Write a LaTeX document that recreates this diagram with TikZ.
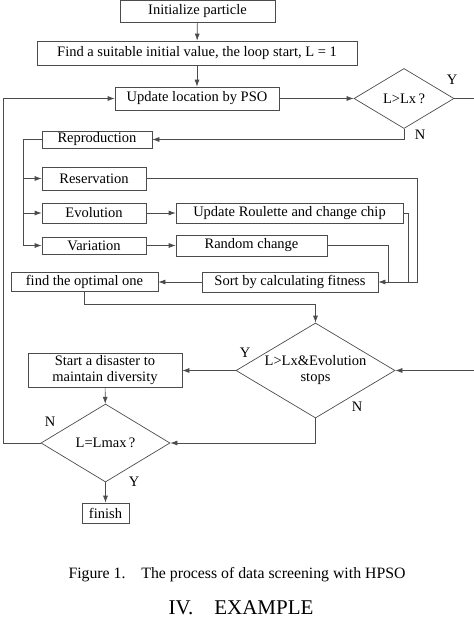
\documentclass[tikz,border=0pt]{standalone}
\usepackage{fontspec}
\setmainfont{Liberation Serif}
\usetikzlibrary{shapes.geometric,arrows.meta}

\begin{document}
\begin{tikzpicture}[x=1pt,y=-1pt,
    box/.style={draw=black!70,line width=0.7pt,rectangle,inner sep=0pt,font=\fontsize{14.5}{16}\selectfont},
    dec/.style={draw=black!70,line width=0.7pt,diamond,inner sep=0pt,align=center,font=\fontsize{14.5}{16}\selectfont},
    lbl/.style={font=\fontsize{14.5}{16}\selectfont},
    conn/.style={draw=black!70,line width=0.7pt},
    >={Latex[length=7pt,width=5pt]}]
    \useasboundingbox (0,0) rectangle (474,619);

    % main column
    \node[box,minimum width=155pt,minimum height=22pt] (init) at (197.5,11) {Initialize particle};
    \node[box,minimum width=320pt,minimum height=24pt] (find) at (197,53) {Find a suitable initial value, the loop start, L = 1};
    \node[box,minimum width=164pt,minimum height=23pt] (upd) at (197,98.5) {Update location by PSO};
    \node[dec,aspect=1.67,minimum width=100pt,minimum height=60pt] (lx) at (404,98.5) {L>Lx\,?};
    \coordinate (lxout) at (474,98.5);

    % operators
    \node[box,minimum width=110pt,minimum height=17pt] (repro) at (97,139.5) {Reproduction};
    \node[box,minimum width=104pt,minimum height=23pt] (reserv) at (94,178.5) {Reservation};
    \node[box,minimum width=104pt,minimum height=20pt] (evol) at (94,213) {Evolution};
    \node[box,minimum width=104pt,minimum height=17pt] (vari) at (94,245.5) {Variation};
    \node[box,minimum width=227pt,minimum height=20pt] (roul) at (289.5,213) {Update Roulette and change chip};
    \node[box,minimum width=151pt,minimum height=21pt] (rand) at (251.5,245.5) {Random change};
    \node[box,minimum width=176pt,minimum height=20pt] (sort) at (290,282) {Sort by calculating fitness};
    \node[box,minimum width=147pt,minimum height=19pt] (opt) at (84.5,282) {find the optimal one};
    \coordinate (bra) at (23,139.5);
    \coordinate (brb) at (23,245.5);
    \coordinate (ma) at (417,282);
    \coordinate (mb) at (408,282);
    \coordinate (mc) at (388,282);
    \coordinate (oj) at (84.5,304);

    % lower part
    \node[dec,aspect=1.67,minimum width=159pt,minimum height=95pt] (stop) at (315.5,370.5) {L>Lx\&Evolution\\stops};
    \coordinate (stopin) at (474,370.5);
    \node[box,align=center,minimum width=154pt,minimum height=34pt] (dis) at (105,370.5) {Start a disaster to\\maintain diversity};
    \node[dec,aspect=1.65,minimum width=129pt,minimum height=78pt] (lmax) at (105.5,443) {L=Lmax\,?};
    \node[box,minimum width=47pt,minimum height=20pt] (fin) at (105.5,513) {finish};
    \coordinate (lb) at (3,443);

    \draw[conn,->] (init) -- (find);
    \draw[conn,->] (find) -- (upd);
    \draw[conn,->] (upd) -- (lx);
    \draw[conn] (lx.east) -- (lxout);
    \draw[conn,->] (lx.south) |- (repro.east);
    \draw[conn] (repro.west) -- (bra) -- (brb);
    \draw[conn,->] (bra |- reserv) -- (reserv);
    \draw[conn,->] (bra |- evol) -- (evol);
    \draw[conn,->] (brb) -- (vari);
    \draw[conn,->] (evol) -- (roul);
    \draw[conn,->] (vari) -- (rand);
    \draw[conn,->] (reserv.east) -| (ma) -- (sort.east);
    \draw[conn] (roul.east) -| (mb);
    \draw[conn] (rand.east) -| (mc);
    \draw[conn,->] (sort) -- (opt);
    \draw[conn,->] (opt.south) -- (oj) -| (stop.north);
    \draw[conn,->] (stopin) -- (stop.east);
    \draw[conn,->] (stop.west) -- (dis.east);
    \draw[conn,->] (dis) -- (lmax);
    \draw[conn,->] (stop.south) |- (lmax.east);
    \draw[conn,->] (lmax) -- (fin);
    \draw[conn,->] (lmax.west) -- (lb) |- (upd.west);

    \node[lbl] (y1) at (452,80) {Y};
    \node[lbl] (n1) at (420,135) {N};
    \node[lbl] (y2) at (245,353) {Y};
    \node[lbl] (n2) at (357,407) {N};
    \node[lbl] (n3) at (50,422) {N};
    \node[lbl] (y3) at (134,482) {Y};

    \node[font=\fontsize{15.8}{18}\selectfont] (cap) at (237,575) {Figure 1.\quad The process of data screening with HPSO};
    \node[font=\fontsize{21}{24}\selectfont,anchor=base] (sec) at (241,614) {IV.\quad EXAMPLE};
\end{tikzpicture}
\end{document}
